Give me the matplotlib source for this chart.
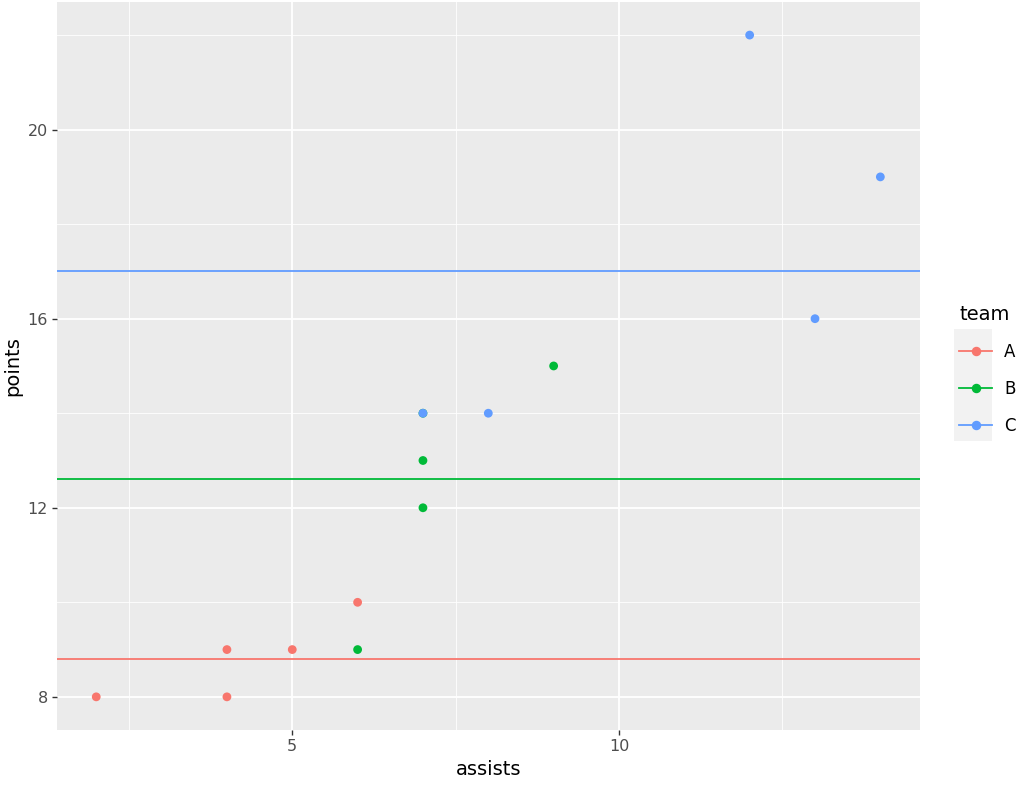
import matplotlib.pyplot as plt
from matplotlib.lines import Line2D
from matplotlib.patches import Rectangle

# data
teams = ["A", "B", "C"]
assists_a = [2, 4, 4, 5, 6]
points_a = [8, 8, 9, 9, 10]
assists_b = [6, 7, 7, 7, 9]
points_b = [9, 12, 13, 14, 15]
assists_c = [7, 8, 12, 13, 14]
points_c = [14, 14, 22, 16, 19]
colors = ["#F8766D", "#00BA38", "#619CFF"]

series = [(assists_a, points_a), (assists_b, points_b), (assists_c, points_c)]

fig = plt.figure(figsize=(10.24, 7.96), dpi=100)
ax = fig.add_axes([0.0557, 0.083, 0.8423, 0.9145])
ax.set_facecolor("#EBEBEB")

# ggplot-like 5% expansion
all_x = assists_a + assists_b + assists_c
all_y = points_a + points_b + points_c
dx = (max(all_x) - min(all_x)) * 0.05
dy = (max(all_y) - min(all_y)) * 0.05
ax.set_xlim(min(all_x) - dx, max(all_x) + dx)
ax.set_ylim(min(all_y) - dy, max(all_y) + dy)

ax.set_xticks([5, 10])
ax.set_xticks([2.5, 7.5, 12.5], minor=True)
ax.set_yticks([8, 12, 16, 20])
ax.set_yticks([10, 14, 18, 22], minor=True)
ax.grid(True, which="major", color="white", linewidth=1.3)
ax.grid(True, which="minor", color="white", linewidth=0.6)
ax.set_axisbelow(True)
for s in ax.spines.values():
    s.set_visible(False)
ax.tick_params(which="major", length=3.5, width=1, color="#333333",
               labelcolor="#4D4D4D", labelsize=11.5, pad=3)
ax.tick_params(which="minor", length=0)

for (xs, ys), c in zip(series, colors):
    ax.axhline(sum(ys) / len(ys), color=c, linewidth=1.3, zorder=2)
    ax.scatter(xs, ys, s=40, color=c, edgecolors="none", zorder=3)

ax.set_xlabel("assists", fontsize=14, color="black", labelpad=4)
ax.set_ylabel("points", fontsize=14, color="black", labelpad=4)

# legend
fig.add_artist(Rectangle((954 / 1024, 1 - 441 / 796), 38 / 1024, 112 / 796,
                         transform=fig.transFigure, facecolor="#F2F2F2",
                         edgecolor="none", zorder=0))
handles = [Line2D([], [], color=c, marker="o", markersize=5.8, linewidth=1.3)
           for c in colors]
leg = fig.legend(handles, teams, title="team", loc="upper left",
                 bbox_to_anchor=(0.922, 0.636), frameon=False, fontsize=12,
                 title_fontsize=14, handlelength=2.0, labelspacing=1.15,
                 handletextpad=0.7, alignment="left")

fig.savefig("out.png", dpi=100)
